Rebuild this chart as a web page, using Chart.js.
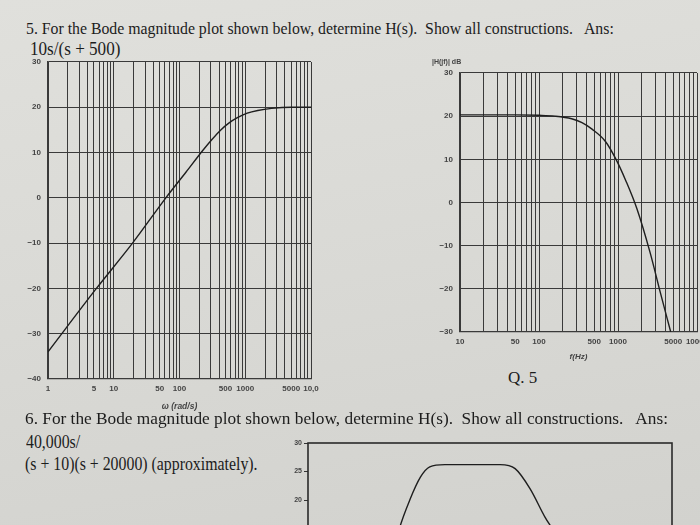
<!DOCTYPE html>
<html>
<head>
<meta charset="utf-8">
<script src="https://cdn.jsdelivr.net/npm/chart.js@4.4.1/dist/chart.umd.min.js"></script>
<style>
  html, body { margin: 0; padding: 0; }
  body {
    width: 700px; height: 525px; overflow: hidden; position: relative;
    background: linear-gradient(170deg, #e0e0dc 0%, #dadad6 45%, #d2d2ce 100%);
    color: #1c1c1c;
  }
  .txt { position: absolute; white-space: nowrap; font-family: "Liberation Serif", serif; transform-origin: left top; }
  .small { position: absolute; white-space: nowrap; font-family: "Liberation Sans", sans-serif; font-weight: bold; color: #444; }
  canvas { position: absolute; }
</style>
</head>
<body>
<div class="txt" style="left:26px; top:20px; font-size:15.8px;">5. For the Bode magnitude plot shown below, determine H(s).&nbsp; Show all constructions.&nbsp;&nbsp; Ans:</div>
<div class="txt" style="left:30px; top:39px; font-size:18px; transform:scaleX(0.95);">10s/(s + 500)</div>

<canvas id="leftchart" width="330" height="362" style="left:0px; top:50px;"></canvas>
<canvas id="rightchart" width="300" height="307" style="left:420px; top:55px;"></canvas>
<div class="small" style="left:432px; top:58px; font-size:7px;">|H(jf)| dB</div>

<div class="txt" style="left:508px; top:368px; font-size:17px;">Q. 5</div>

<div class="txt" style="left:25px; top:409px; font-size:17.3px;">6. For the Bode magnitude plot shown below, determine H(s).&nbsp; Show all constructions.&nbsp;&nbsp; Ans:</div>
<div class="txt" style="left:26px; top:432px; font-size:18px; transform:scaleX(0.88);">40,000s/</div>
<div class="txt" style="left:25px; top:454px; font-size:18px; transform:scaleX(0.88);">(s + 10)(s + 20000) (approximately).</div>

<canvas id="bottomchart" width="420" height="200" style="left:270px; top:430px;"></canvas>

<script>
// Q5 high-pass plot (rad/s, dB)
const leftFreq = [1, 5.45, 19.3, 62, 126, 224, 316, 417, 562, 759, 1072, 1549, 2512, 5000, 10000];
const leftDb = [-34, -20, -10, 0, 5.7, 10.4, 13, 14.9, 16.5, 17.7, 18.7, 19.3, 19.75, 20, 20];
const leftTickValues = [1, 5, 10, 50, 100, 500, 1000, 5000, 10000];
const leftTickText = ["1", "5", "10", "50", "100", "500", "1000", "5000", "10,0"];

// low-pass plot (Hz, dB)
const rightFreq = [10, 50, 100, 160, 259, 350, 469, 690, 944, 1260, 1740, 2540, 3450, 4650];
const rightDb = [20.3, 20.3, 20.2, 20, 19.4, 18.5, 17, 14.2, 10, 5, -1.5, -11.5, -21, -30];
const rightTickValues = [10, 50, 100, 500, 1000, 5000, 10000];
const rightTickText = ["10", "50", "100", "500", "1000", "5000", "10000"];

// Q6 band-pass plot, only the top part is visible
const bottomFreq = [15.7, 18, 25, 35, 47, 76, 436, 700, 1120, 1800, 2500, 3200];
const bottomDb = [12, 15, 20, 24, 25.8, 26.2, 26.2, 25.5, 22, 17, 14, 11];

const mantissas = [1, 2, 3, 4, 5, 6, 7, 8, 9];
const gridColor = "#3a3a3a";
const inkColor = "#1e1e1e";
const tickFont = { family: "Liberation Sans", size: 8, weight: "bold" };

// all 1..9 lines of every decade, like log paper
function logGrid(from, to) {
    const out = [];
    for (let d = from; d < to; d *= 10) {
        mantissas.forEach(m => out.push(m * d));
    }
    out.push(to);
    return out;
}

function toPoints(xs, ys) {
    return xs.map((x, i) => ({ x: x, y: ys[i] }));
}

function minusSign(v) {
    return v < 0 ? "\u2212" + Math.abs(v) : String(v);
}

function bodeChart(canvas, cfg) {
    return new Chart(canvas, {
        type: "line",
        data: {
            datasets: [{
                data: toPoints(cfg.xs, cfg.ys),
                borderColor: inkColor,
                borderWidth: 1.4,
                pointRadius: 0,
                cubicInterpolationMode: "monotone",
            }],
        },
        options: {
            responsive: false,
            animation: false,
            layout: { padding: cfg.padding },
            plugins: { legend: { display: false }, tooltip: { enabled: false } },
            scales: {
                x: {
                    type: "logarithmic",
                    min: cfg.xmin,
                    max: cfg.xmax,
                    afterBuildTicks: (scale) => {
                        scale.ticks = logGrid(cfg.xmin, cfg.xmax).map(v => ({ value: v }));
                    },
                    afterFit: (scale) => { scale.height = cfg.xHeight; },
                    grid: { color: gridColor, lineWidth: 1, drawTicks: false },
                    border: { color: gridColor, width: 1.2 },
                    ticks: {
                        autoSkip: false,
                        maxRotation: 0,
                        padding: 5,
                        color: "#444",
                        font: tickFont,
                        callback: (v) => {
                            const i = cfg.tickValues.indexOf(v);
                            return i >= 0 ? cfg.tickText[i] : "";
                        },
                    },
                    title: {
                        display: true,
                        text: cfg.xTitle,
                        color: "#444",
                        padding: { top: 2, bottom: 0 },
                        font: { family: "Liberation Sans", size: cfg.titleSize, style: "italic", weight: "bold" },
                    },
                },
                y: {
                    min: cfg.ymin,
                    max: cfg.ymax,
                    afterFit: (scale) => { scale.width = cfg.yWidth; },
                    grid: { color: gridColor, lineWidth: 1.1, drawTicks: false },
                    border: { color: gridColor, width: 1.2 },
                    ticks: {
                        stepSize: 10,
                        padding: 7,
                        color: "#444",
                        font: tickFont,
                        callback: (v) => minusSign(v),
                    },
                },
            },
        },
    });
}

bodeChart(document.getElementById("leftchart"), {
    xs: leftFreq, ys: leftDb,
    xmin: 1, xmax: 10000, ymin: -40, ymax: 30,
    tickValues: leftTickValues, tickText: leftTickText,
    xTitle: "\u03c9 (rad/s)", titleSize: 8.5,
    padding: { top: 12, right: 19, left: 0, bottom: 0 },
    yWidth: 48, xHeight: 33,
});

bodeChart(document.getElementById("rightchart"), {
    xs: rightFreq, ys: rightDb,
    xmin: 10, xmax: 10000, ymin: -30, ymax: 30,
    tickValues: rightTickValues, tickText: rightTickText,
    xTitle: "f(Hz)", titleSize: 8,
    padding: { top: 18, right: 23, left: 0, bottom: 0 },
    yWidth: 40, xHeight: 30,
});

// box round the plot area
const boxPlugin = {
    id: "box",
    afterDraw(chart) {
        const a = chart.chartArea;
        const ctx = chart.ctx;
        ctx.save();
        ctx.strokeStyle = "#2a2a2a";
        ctx.lineWidth = 1.6;
        ctx.strokeRect(a.left, a.top, a.right - a.left, a.bottom - a.top);
        ctx.restore();
    },
};

new Chart(document.getElementById("bottomchart"), {
    type: "line",
    data: {
        datasets: [{
            data: toPoints(bottomFreq, bottomDb),
            borderColor: inkColor,
            borderWidth: 1.4,
            pointRadius: 0,
            cubicInterpolationMode: "monotone",
        }],
    },
    options: {
        responsive: false,
        animation: false,
        layout: { padding: { top: 13, right: 18, bottom: 16, left: 0 } },
        plugins: { legend: { display: false }, tooltip: { enabled: false } },
        scales: {
            x: { type: "logarithmic", min: 1, max: 100000, display: false },
            y: {
                min: 0,
                max: 30,
                afterFit: (scale) => { scale.width = 38; },
                grid: { drawOnChartArea: false, drawTicks: true, tickLength: 4, color: "#333" },
                border: { display: false },
                ticks: {
                    stepSize: 5,
                    padding: 2,
                    color: "#444",
                    font: { family: "Liberation Sans", size: 7, weight: "bold" },
                },
            },
        },
    },
    plugins: [boxPlugin],
});
</script>
</body>
</html>
